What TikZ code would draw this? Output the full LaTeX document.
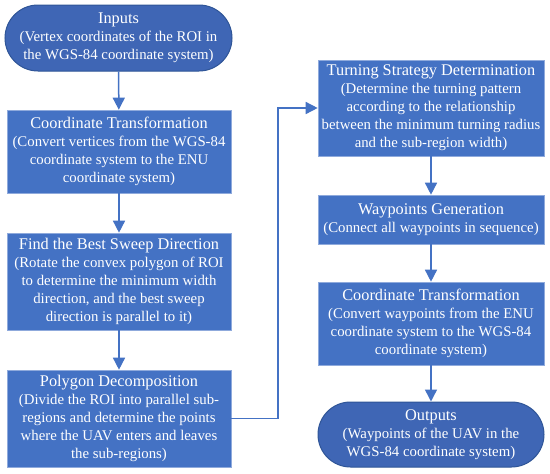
\documentclass[tikz,border=0pt]{standalone}
\usepackage{fontspec}
\setmainfont{Liberation Serif}
\usetikzlibrary{arrows.meta}
\definecolor{boxblue}{HTML}{4472C4}
\definecolor{boxedge}{HTML}{8FAADC}
\definecolor{termblue}{HTML}{3F66B5}
\definecolor{termedge}{HTML}{2F5597}
\definecolor{linkblue}{HTML}{4472C4}
\newcommand{\ttl}[1]{{\fontsize{16.3}{18}\selectfont #1}}
\tikzset{
  stepbox/.style={draw=boxedge, line width=0.6pt, fill=boxblue, text=white,
    align=center, inner sep=0pt, font=\fontsize{14.8}{18}\selectfont},
  termbox/.style={draw=termedge, line width=1pt, fill=termblue, text=white,
    align=center, inner sep=0pt, font=\fontsize{14.8}{18}\selectfont},
  link/.style={draw=linkblue, line width=1.5pt, -{Triangle[width=12pt,length=12pt]}}
}
\begin{document}
\begin{tikzpicture}[x=1pt,y=-1pt]
\useasboundingbox (0,0) rectangle (550,474);
\fill[white] (0,0) rectangle (550,474);
% left column
\node[termbox, minimum width=227pt, minimum height=66pt, rounded corners=33pt] (in) at (118.5,38)
  {\ttl{Inputs}\\(Vertex coordinates of the ROI in\\the WGS-84 coordinate system)};
\node[stepbox, minimum width=224pt, minimum height=83pt] (ct1) at (119,151.5)
  {\ttl{Coordinate Transformation}\\(Convert vertices from the WGS-84\\coordinate system to the ENU\\coordinate system)};
\node[stepbox, minimum width=224pt, minimum height=97pt] (fb) at (119,281.5)
  {\ttl{Find the Best Sweep Direction}\\(Rotate the convex polygon of ROI\\to determine the minimum width\\direction, and the best sweep\\direction is parallel to it)};
\node[stepbox, minimum width=224pt, minimum height=97pt] (pd) at (119,418.5)
  {\ttl{Polygon Decomposition}\\(Divide the ROI into parallel sub-\\regions and determine the points\\where the UAV enters and leaves\\the sub-regions)};
% right column
\node[stepbox, minimum width=226pt, minimum height=96pt] (ts) at (431,108)
  {\ttl{Turning Strategy Determination}\\(Determine the turning pattern\\according to the relationship\\between the minimum turning radius\\and the sub-region width)};
\node[stepbox, minimum width=226pt, minimum height=49pt] (wg) at (431,219.5)
  {\ttl{Waypoints Generation}\\(Connect all waypoints in sequence)};
\node[stepbox, minimum width=226pt, minimum height=83pt] (ct2) at (431,323.5)
  {\ttl{Coordinate Transformation}\\(Convert waypoints from the ENU\\coordinate system to the WGS-84\\coordinate system)};
\node[termbox, minimum width=226pt, minimum height=65pt, rounded corners=32.5pt] (out) at (431,434.5)
  {\ttl{Outputs}\\(Waypoints of the UAV in the\\WGS-84 coordinate system)};
% connectors
\draw[link] (in) -- (ct1);
\draw[link] (ct1) -- (fb);
\draw[link] (fb) -- (pd);
\coordinate (turn) at (278,0);
\draw[link] (pd.east) -- (pd.east -| turn) -- (ts.west -| turn) -- (ts.west);
\draw[link] (ts) -- (wg);
\draw[link] (wg) -- (ct2);
\draw[link] (ct2) -- (out);
\end{tikzpicture}
\end{document}
